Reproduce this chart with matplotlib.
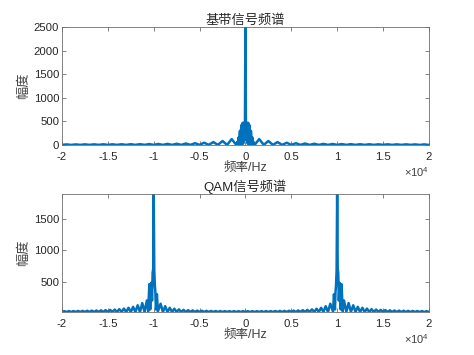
import matplotlib
matplotlib.use("Agg")
import matplotlib.pyplot as plt
from matplotlib.ticker import FuncFormatter, MultipleLocator

plt.rcParams['font.family'] = ['Liberation Sans', 'Noto Sans CJK SC']
plt.rcParams['axes.unicode_minus'] = False

# 基带信号频谱 (频率 Hz, 幅度)
base_f = [-20000, -19500, -19000, -18500, -18000, -17500, -17000, -16500, -16000,
          -15500, -15000, -14500, -14000, -13500, -13000, -12500, -12000, -11500,
          -11000, -10500, -10000, -9500, -9000, -8500, -8000, -7500, -7000, -6500,
          -6000, -5500, -5000, -4500, -4000, -3500, -3000, -2500, -2000, -1500,
          -1000, -900, -850, -750, -700, -600, -550, -450, -400, -300, -250, -180,
          -130, -100, -60, 0, 60, 100, 130, 180, 250, 300, 400, 450, 550, 600, 700,
          750, 850, 900, 1000, 1500, 2000, 2500, 3000, 3500, 4000, 4500, 5000,
          5500, 6000, 6500, 7000, 7500, 8000, 8500, 9000, 9500, 10000, 10500,
          11000, 11500, 12000, 12500, 13000, 13500, 14000, 14500, 15000, 15500,
          16000, 16500, 17000, 17500, 18000, 18500, 19000, 19500, 20000]
base_amp = [2, 13, 2, 13, 3, 14, 3, 14, 3,
            15, 3, 15, 3, 16, 3, 17, 3, 18,
            3, 20, 3, 22, 3, 24, 3, 27, 3, 32,
            3, 38, 3, 48, 3, 62, 3, 85, 3, 125,
            3, 60, 2, 160, 5, 300, 5, 420, 10, 470, 30, 470,
            100, 460, 170, 2700, 170, 460, 100, 470, 30, 470, 10, 420, 5, 300, 5,
            160, 2, 60, 3, 125, 3, 85, 3, 62, 3, 48, 3,
            38, 3, 32, 3, 27, 3, 24, 3, 22, 3, 20,
            3, 18, 3, 17, 3, 16, 3, 15, 3, 15,
            3, 14, 3, 14, 3, 13, 2, 13, 2]

# QAM信号频谱 (频率 Hz, 幅度)
qam_f = [-20000, -19750, -19500, -19250, -19000, -18750, -18500, -18250, -18000,
         -17750, -17500, -17250, -17000, -16750, -16500, -16250, -16000, -15750,
         -15500, -15250, -15000, -14750, -14500, -14250, -14000, -13750, -13500,
         -13250, -13000, -12750, -12500, -12250, -12000, -11750, -11500, -11250,
         -11000, -10750, -10600, -10480, -10380, -10280, -10180, -10120, -10060,
         -10000, -9940, -9880, -9820, -9760, -9650, -9550, -9250, -9000, -8750,
         -8500, -8250, -8000, -7750, -7500, -7250, -7000, -6750, -6500, -6250,
         -6000, -5750, -5500, -5250, -5000, -4750, -4500, -4250, -4000, -3750,
         -3500, -3250, -3000, -2750, -2500, -2250, -2000, -1750, -1500, -1250,
         -1000, -750, -500, -250, 0, 250, 500, 750, 1000, 1250, 1500, 1750, 2000,
         2250, 2500, 2750, 3000, 3250, 3500, 3750, 4000, 4250, 4500, 4750, 5000,
         5250, 5500, 5750, 6000, 6250, 6500, 6750, 7000, 7250, 7500, 7750, 8000,
         8250, 8500, 8750, 9000, 9250, 9550, 9650, 9760, 9820, 9880, 9940, 10000,
         10060, 10120, 10180, 10280, 10380, 10480, 10600, 10750, 11000, 11250,
         11500, 11750, 12000, 12250, 12500, 12750, 13000, 13250, 13500, 13750,
         14000, 14250, 14500, 14750, 15000, 15250, 15500, 15750, 16000, 16250,
         16500, 16750, 17000, 17250, 17500, 17750, 18000, 18250, 18500, 18750,
         19000, 19250, 19500, 19750, 20000]
qam_amp = [18, 32, 18, 33, 18, 34, 18, 35, 18,
           36, 18, 38, 18, 40, 18, 42, 18, 45,
           18, 48, 18, 52, 18, 57, 18, 63, 18,
           72, 18, 85, 18, 100, 18, 125, 18, 160,
           18, 200, 30, 460, 60, 480, 200, 640, 700,
           1890, 680, 450, 330, 60, 300, 25, 150, 18, 110,
           18, 85, 18, 70, 18, 60, 18, 52, 18, 47,
           18, 43, 18, 40, 18, 38, 18, 36, 18, 35,
           18, 34, 18, 33, 18, 33, 18, 32, 18, 32,
           18, 32, 18, 32, 18, 32, 18, 32, 18, 32, 18, 32, 18,
           33, 18, 33, 18, 34, 18, 35, 18, 36, 18, 38, 18,
           40, 18, 43, 18, 47, 18, 52, 18, 60, 18, 70, 18,
           85, 18, 110, 18, 150, 25, 300, 60, 330, 450, 680, 1890,
           700, 640, 200, 480, 60, 460, 30, 200, 18, 160,
           18, 125, 18, 100, 18, 85, 18, 72, 18, 63,
           18, 57, 18, 52, 18, 48, 18, 45, 18, 42,
           18, 40, 18, 38, 18, 36, 18, 35, 18, 34,
           18, 33, 18, 32, 18]

line_color = '#0072BD'
edge_color = '#6e6e6e'
text_color = '#262626'

fig = plt.figure(figsize=(4.74, 3.55), dpi=100)
ax1 = fig.add_axes([0.1308, 0.5915, 0.774, 0.3324])
ax2 = fig.add_axes([0.1308, 0.1211, 0.774, 0.3324])


def style(ax, title):
    ax.set_xlim(-20000, 20000)
    ax.xaxis.set_major_locator(MultipleLocator(5000))
    ax.xaxis.set_major_formatter(FuncFormatter(lambda v, p: f"{v / 1e4:g}"))
    ax.tick_params(direction='in', top=True, right=True, length=3, width=0.6,
                   colors=edge_color, labelcolor=text_color, labelsize=8.2)
    ax.tick_params(axis='x', pad=5)
    ax.tick_params(axis='y', pad=2)
    for s in ax.spines.values():
        s.set_color(edge_color)
        s.set_linewidth(0.6)
    ax.set_title(title, fontsize=9.5, color=text_color, pad=2)
    ax.set_xlabel('频率/Hz', fontsize=9, color='#404040', labelpad=0)
    ax.set_ylabel('幅度', fontsize=9.5, color='#404040', labelpad=2.5)
    ax.text(1.0, -0.23, r'$\mathregular{\times10^{4}}$', transform=ax.transAxes,
            ha='right', va='center', fontsize=8, color='#404040')


ax1.plot(base_f, base_amp, color=line_color, lw=1.8)
ax1.set_ylim(0, 2500)
ax1.yaxis.set_major_locator(MultipleLocator(500))
style(ax1, '基带信号频谱')

ax2.plot(qam_f, qam_amp, color=line_color, lw=1.8)
ax2.set_ylim(18, 1890)
ax2.set_yticks([500, 1000, 1500])
style(ax2, 'QAM信号频谱')

fig.savefig('out.png', dpi=100)
